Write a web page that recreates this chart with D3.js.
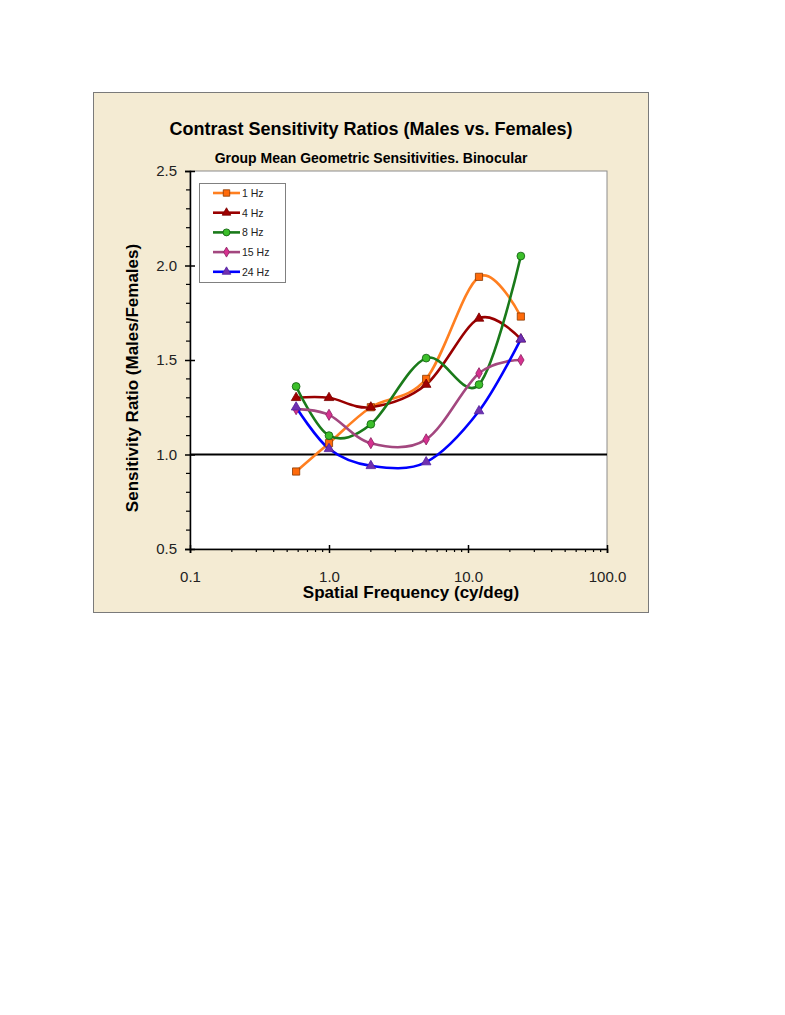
<!DOCTYPE html>
<html>
<head>
<meta charset="utf-8">
<script src="https://d3js.org/d3.v7.min.js"></script>
<style>
  body { margin: 0; background: #fff; }
  text { font-family: "Liberation Sans", Arial, sans-serif; }
</style>
</head>
<body>
<div id="chart"></div>
<script>
// spatial frequencies (cy/deg)
var freqs = [0.58, 1.0, 2.0, 5.0, 12.0, 24.0];

// sensitivity ratios per temporal frequency
var hz1  = [0.91, 1.06, 1.25, 1.40, 1.94, 1.73];
var hz4  = [1.30, 1.30, 1.25, 1.37, 1.72, 1.61];
var hz8  = [1.36, 1.10, 1.16, 1.51, 1.37, 2.05];
var hz15 = [1.24, 1.21, 1.06, 1.08, 1.43, 1.50];
var hz24 = [1.25, 1.03, 0.94, 0.96, 1.23, 1.61];

var seriesNames = ["1 Hz", "4 Hz", "8 Hz", "15 Hz", "24 Hz"];

var xTicks = [0.1, 1, 10, 100];
var xTickLabels = ["0.1", "1.0", "10.0", "100.0"];
var yTicks = [0.5, 1.0, 1.5, 2.0, 2.5];

var series = [
  {name: seriesNames[0], values: hz1,  line: "#ff7f20", fill: "#ff6a0a", stroke: "#8a3a00", shape: d3.symbolSquare, size: 52},
  {name: seriesNames[1], values: hz4,  line: "#990000", fill: "#a00000", stroke: "#7a0000", shape: d3.symbolTriangle, size: 40},
  {name: seriesNames[2], values: hz8,  line: "#1a7a1a", fill: "#3cbf2a", stroke: "#0f5a0f", shape: d3.symbolCircle, size: 48},
  {name: seriesNames[3], values: hz15, line: "#a3477f", fill: "#d6318f", stroke: "#8a1f60", shape: d3.symbolDiamond, size: 36},
  {name: seriesNames[4], values: hz24, line: "#0000ff", fill: "#7030b0", stroke: "#5020a0", shape: d3.symbolTriangle, size: 40}
];

var W = 785, H = 1015;
var plot = {left: 190, right: 607, top: 171, bottom: 549};

var svg = d3.select("#chart").append("svg")
    .attr("width", W)
    .attr("height", H);

// chart frame
svg.append("rect")
    .attr("x", 93.5).attr("y", 92.5)
    .attr("width", 555).attr("height", 520)
    .attr("fill", "#f4ebd3")
    .attr("stroke", "#7a7a7a")
    .attr("stroke-width", 1);

// plot area
svg.append("rect")
    .attr("x", plot.left).attr("y", plot.top)
    .attr("width", plot.right - plot.left).attr("height", plot.bottom - plot.top)
    .attr("fill", "#ffffff")
    .attr("stroke", "#8c8c8c")
    .attr("stroke-width", 1);

var xScale = d3.scaleLog().domain([0.1, 100]).range([plot.left, plot.right]);
var yScale = d3.scaleLinear().domain([0.5, 2.5]).range([plot.bottom, plot.top]);

// titles
svg.append("text")
    .attr("x", 371).attr("y", 135)
    .attr("text-anchor", "middle")
    .style("font-size", "18px").style("font-weight", "bold")
    .text("Contrast Sensitivity Ratios (Males vs. Females)");

svg.append("text")
    .attr("x", 371).attr("y", 163)
    .attr("text-anchor", "middle")
    .style("font-size", "14px").style("font-weight", "bold")
    .text("Group Mean Geometric Sensitivities. Binocular");

// reference line at 1.0
svg.append("line")
    .attr("x1", plot.left).attr("x2", plot.right)
    .attr("y1", yScale(1)).attr("y2", yScale(1))
    .attr("stroke", "#000").attr("stroke-width", 2);

// y axis
var yMinor = d3.range(6, 25).map(function(d) { return d / 10; })
    .filter(function(d) { return Math.round(d * 10) % 5 !== 0; });

var yAxis = svg.append("g")
    .attr("transform", "translate(" + plot.left + ",0)")
    .call(d3.axisLeft(yScale).tickValues(yTicks).tickFormat(d3.format(".1f")).tickSize(5).tickPadding(8));
yAxis.select(".domain").attr("stroke", "#000").attr("stroke-width", 1.5);
yAxis.selectAll(".tick line").attr("x1", 5).attr("stroke-width", 1.5);
yAxis.selectAll(".tick text").style("font-size", "15px").attr("fill", "#222")
    .style("font-family", "'Liberation Sans', Arial, sans-serif");

svg.append("g").selectAll("line")
    .data(yMinor).enter().append("line")
    .attr("x1", plot.left - 4).attr("x2", plot.left)
    .attr("y1", function(d) { return yScale(d); })
    .attr("y2", function(d) { return yScale(d); })
    .attr("stroke", "#000").attr("stroke-width", 1.2);

// x axis
var xMinor = [];
[0.1, 1, 10].forEach(function(dec) {
  for (var k = 2; k <= 9; k++) xMinor.push(dec * k);
});

var xAxis = svg.append("g")
    .attr("transform", "translate(0," + plot.bottom + ")")
    .call(d3.axisBottom(xScale).tickValues(xTicks)
        .tickFormat(function(d, i) { return xTickLabels[i]; })
        .tickSize(4).tickPadding(18));
xAxis.select(".domain").attr("stroke", "#000").attr("stroke-width", 1.5);
xAxis.selectAll(".tick line").attr("y1", -4).attr("stroke-width", 1.5);
xAxis.selectAll(".tick text").style("font-size", "15px").attr("fill", "#222")
    .style("font-family", "'Liberation Sans', Arial, sans-serif");

svg.append("g").selectAll("line")
    .data(xMinor).enter().append("line")
    .attr("x1", function(d) { return xScale(d); })
    .attr("x2", function(d) { return xScale(d); })
    .attr("y1", plot.bottom).attr("y2", plot.bottom + 3)
    .attr("stroke", "#000").attr("stroke-width", 1.2);

// axis titles
svg.append("text")
    .attr("x", 411).attr("y", 598)
    .attr("text-anchor", "middle")
    .style("font-size", "17px").style("font-weight", "bold")
    .text("Spatial Frequency (cy/deg)");

svg.append("text")
    .attr("transform", "translate(138,378) rotate(-90)")
    .attr("text-anchor", "middle")
    .style("font-size", "17px").style("font-weight", "bold")
    .text("Sensitivity Ratio (Males/Females)");

// smoothed series lines
var line = d3.line()
    .x(function(d) { return xScale(d[0]); })
    .y(function(d) { return yScale(d[1]); })
    .curve(d3.curveCatmullRom.alpha(0));

series.forEach(function(s) {
  var pts = freqs.map(function(f, i) { return [f, s.values[i]]; });
  s.pts = pts;
  svg.append("path")
      .datum(pts)
      .attr("fill", "none")
      .attr("stroke", s.line)
      .attr("stroke-width", 2.6)
      .attr("d", line);
});

// markers on top
series.forEach(function(s) {
  svg.append("g").selectAll("path")
      .data(s.pts).enter().append("path")
      .attr("transform", function(d) {
        return "translate(" + xScale(d[0]) + "," + yScale(d[1]) + ")";
      })
      .attr("d", d3.symbol().type(s.shape).size(s.size))
      .attr("fill", s.fill)
      .attr("stroke", s.stroke)
      .attr("stroke-width", 0.8);
});

// legend
var legend = svg.append("g");
legend.append("rect")
    .attr("x", 199.5).attr("y", 183.5)
    .attr("width", 86).attr("height", 99)
    .attr("fill", "#fff")
    .attr("stroke", "#808080")
    .attr("stroke-width", 1);

series.forEach(function(s, i) {
  var ly = 193 + i * 19.7;
  legend.append("line")
      .attr("x1", 213).attr("x2", 240)
      .attr("y1", ly).attr("y2", ly)
      .attr("stroke", s.line).attr("stroke-width", 2.6);
  legend.append("path")
      .attr("transform", "translate(226.5," + ly + ")")
      .attr("d", d3.symbol().type(s.shape).size(s.size * 0.8))
      .attr("fill", s.fill)
      .attr("stroke", s.stroke)
      .attr("stroke-width", 0.8);
  legend.append("text")
      .attr("x", 242).attr("y", ly + 4)
      .style("font-size", "10.5px")
      .attr("fill", "#222")
      .text(s.name);
});
</script>
</body>
</html>
